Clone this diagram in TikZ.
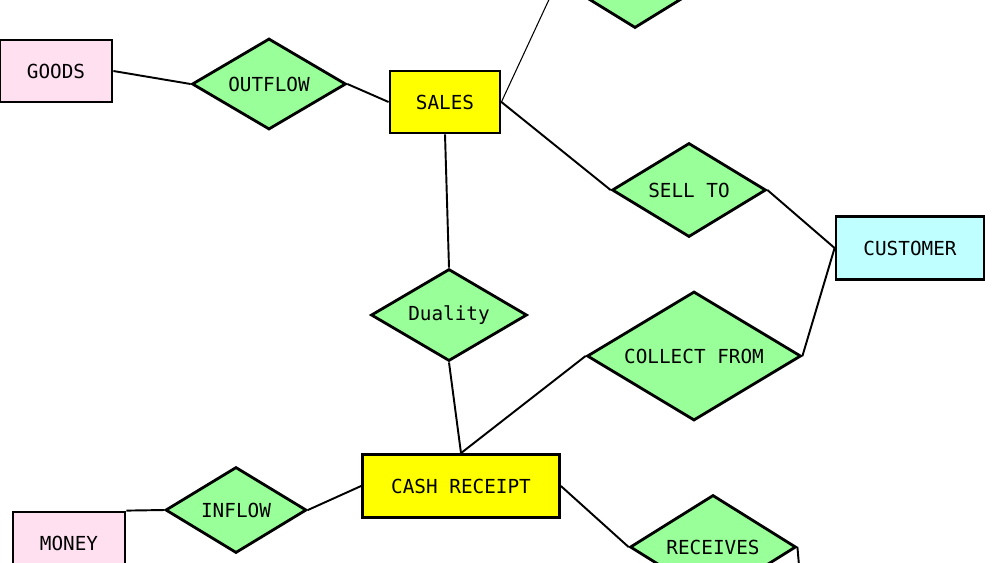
\documentclass[tikz,border=0pt]{standalone}
\usepackage{fontspec}
\setmonofont{DejaVu Sans Mono}
\usetikzlibrary{shapes.geometric}
\definecolor{pinkf}{HTML}{FFE0F0}
\definecolor{cyanf}{HTML}{C0FFFF}
\definecolor{greenf}{HTML}{99FF99}
\definecolor{yellowf}{HTML}{FFFF00}
\begin{document}
\begin{tikzpicture}[x=0.02cm,y=-0.02cm,
  every node/.style={font=\ttfamily\fontsize{11}{13}\selectfont, line width=1.6pt, draw=black, inner sep=0pt},
  ent/.style={rectangle, fill=#1},
  rel/.style={diamond, fill=greenf, aspect=1.6},
  conn/.style={line width=1.1pt}]
\useasboundingbox (0,0) rectangle (1000,562);
\clip (0,0) rectangle (1000,562);
\node[ent=pinkf, minimum width=112*0.02cm, minimum height=62*0.02cm] (goods) at (56,71) {GOODS};
\node[rel, minimum width=154*0.02cm, minimum height=91*0.02cm] (outflow) at (269,84) {OUTFLOW};
\node[ent=yellowf, minimum width=110*0.02cm, minimum height=62*0.02cm] (sales) at (445,102) {SALES};
\node[rel, minimum width=152*0.02cm, minimum height=94*0.02cm] (top) at (635,-19) {};
\node[rel, minimum width=154*0.02cm, minimum height=94*0.02cm] (sellto) at (689,190) {SELL TO};
\node[ent=cyanf, minimum width=148*0.02cm, minimum height=63*0.02cm] (customer) at (910,248) {CUSTOMER};
\node[rel, minimum width=156*0.02cm, minimum height=92*0.02cm] (duality) at (449,315) {Duality};
\node[rel, minimum width=214*0.02cm, minimum height=129*0.02cm] (collect) at (694,356) {COLLECT FROM};
\node[ent=yellowf, minimum width=197*0.02cm, minimum height=63*0.02cm] (cash) at (461,486) {CASH RECEIPT};
\node[rel, minimum width=141*0.02cm, minimum height=86*0.02cm] (inflow) at (236,510) {INFLOW};
\node[ent=pinkf, minimum width=112*0.02cm, minimum height=62*0.02cm] (money) at (69,543) {MONEY};
\node[rel, minimum width=166*0.02cm, minimum height=104*0.02cm] (receives) at (713,547) {RECEIVES};
\coordinate (down) at (802,600);
\draw[conn] (goods.east) -- (outflow.west);
\draw[conn] (outflow.east) -- (sales.west);
\draw[conn] (sales.south) -- (duality.north);
\draw[conn] (duality.south) -- (cash.north);
\draw[conn] (sales.east) -- (sellto.west);
\draw[line width=0.6pt] (sales.east) -- (top.west);
\draw[conn] (sellto.east) -- (customer.west);
\draw[conn] (customer.west) -- (collect.east);
\draw[conn] (collect.west) -- (cash.north);
\draw[conn] (cash.west) -- (inflow.east);
\draw[conn] (inflow.west) -- (money.north east);
\draw[conn] (cash.east) -- (receives.west);
\draw[conn] (receives.east) -- (down);
\end{tikzpicture}
\end{document}
